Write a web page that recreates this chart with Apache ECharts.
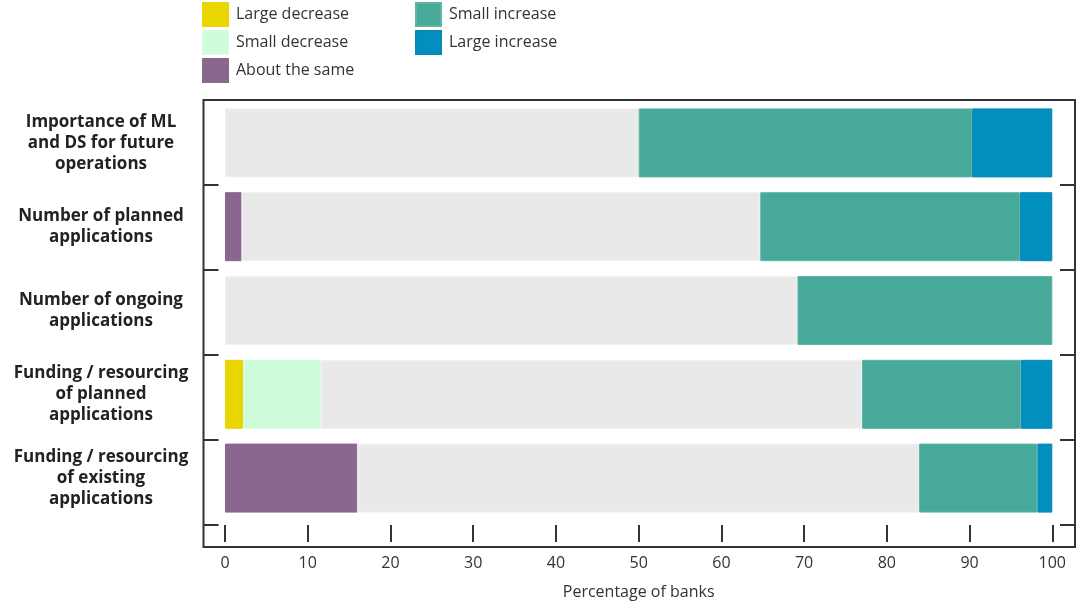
<!DOCTYPE html>
<html>
<head>
<meta charset="utf-8">
<script src="https://cdn.jsdelivr.net/npm/echarts@6/dist/echarts.min.js"></script>
<style>
html,body{margin:0;padding:0;background:#fff;}
#chart{width:1077px;height:605px;}
</style>
</head>
<body>
<div id="chart"></div>
<script>
const categories = [
  'Importance of ML\nand DS for future\noperations',
  'Number of planned\napplications',
  'Number of ongoing\napplications',
  'Funding / resourcing\nof planned\napplications',
  'Funding / resourcing\nof existing\napplications'
];
const largeDecrease = [null, null, null, 2.2, null];
const smallDecrease = [null, null, null, 9.4, null];
const aboutSame     = [null, 2.0, null, null, 16.0];
const remainder     = [50.0, 62.7, 69.2, 65.4, 67.9];
const smallIncrease = [40.3, 31.4, 30.8, 19.2, 14.3];
const largeIncrease = [9.7, 3.9, null, 3.8, 1.8];
const xTicks = [0, 10, 20, 30, 40, 50, 60, 70, 80, 90, 100];

const colors = {
  'Large decrease': '#E9D500',
  'Small decrease': '#CCFCDA',
  'About the same': '#8A678F',
  'Remainder': '#E9E9E9',
  'Small increase': '#47A99A',
  'Large increase': '#008FBE'
};
const borders = {
  'Large decrease': '#E9D500',
  'Small decrease': '#D8FCE2',
  'About the same': '#8A678F',
  'Remainder': '#F1F1F1',
  'Small increase': '#5DB4A6',
  'Large increase': '#0A88B4'
};

function mk(name, data) {
  return {
    name: name, type: 'bar', stack: 'all', data: data,
    xAxisIndex: 0, yAxisIndex: 0,
    barWidth: 69,
    itemStyle: { color: colors[name], borderColor: borders[name], borderWidth: 1 },
    emphasis: { disabled: true },
    animation: false
  };
}

const chart = echarts.init(document.getElementById('chart'), null, { renderer: 'canvas' });
const legendText = { fontFamily: 'Open Sans', fontSize: 16, lineHeight: 18, color: '#333', padding: [0, 0, 0, 3] };
const tickStyle = { show: true, inside: true, length: 15, lineStyle: { color: '#333', width: 2 } };
chart.setOption({
  animation: false,
  grid: [
    { left: 225, right: 24.7, top: 101, bottom: 79, containLabel: false },
    { left: 203.5, right: 2, top: 100, bottom: 58, show: true, borderColor: '#333', borderWidth: 2, backgroundColor: 'transparent', z: 10 }
  ],
  legend: [
    { data: ['Large decrease', 'Small decrease', 'About the same'], orient: 'vertical', left: 202, top: 2, padding: 0,
      itemWidth: 25, itemHeight: 23, itemGap: 3, icon: 'rect', textStyle: legendText, selectedMode: false },
    { data: ['Small increase', 'Large increase'], orient: 'vertical', left: 415, top: 2, padding: 0,
      itemWidth: 25, itemHeight: 23, itemGap: 3, icon: 'rect', textStyle: legendText, selectedMode: false }
  ],
  xAxis: [
    { gridIndex: 0, type: 'value', min: 0, max: 100, interval: 10, position: 'bottom', offset: 22,
      axisLine: { show: false },
      axisTick: { show: true, inside: true, length: 17, lineStyle: { color: '#333', width: 2 } },
      axisLabel: { margin: 13, fontFamily: 'Open Sans', fontSize: 16, color: '#333',
        formatter: v => xTicks.includes(v) ? String(v) : '' },
      splitLine: { show: false },
      name: 'Percentage of banks', nameLocation: 'middle', nameGap: 42,
      nameTextStyle: { fontFamily: 'Open Sans', fontSize: 16, color: '#333' } },
    { gridIndex: 1, type: 'value', show: false, min: 0, max: 1 }
  ],
  yAxis: [
    { gridIndex: 0, type: 'category', data: categories, inverse: true, position: 'left',
      axisLine: { show: false },
      axisTick: { show: false },
      axisLabel: { margin: 124, align: 'center', fontFamily: 'Open Sans', fontWeight: 'bold', fontSize: 17,
        lineHeight: 21, color: '#222' } },
    { gridIndex: 1, type: 'value', position: 'left', inverse: true, min: 0, max: 447 / 85, interval: 1,
      axisLine: { show: false }, axisTick: tickStyle, axisLabel: { show: false }, splitLine: { show: false } },
    { gridIndex: 1, type: 'value', position: 'right', inverse: true, min: 0, max: 447 / 85, interval: 1,
      axisLine: { show: false }, axisTick: tickStyle, axisLabel: { show: false }, splitLine: { show: false } }
  ],
  series: [
    mk('Large decrease', largeDecrease),
    mk('Small decrease', smallDecrease),
    mk('About the same', aboutSame),
    mk('Remainder', remainder),
    mk('Small increase', smallIncrease),
    mk('Large increase', largeIncrease)
  ]
});
</script>
</body>
</html>
